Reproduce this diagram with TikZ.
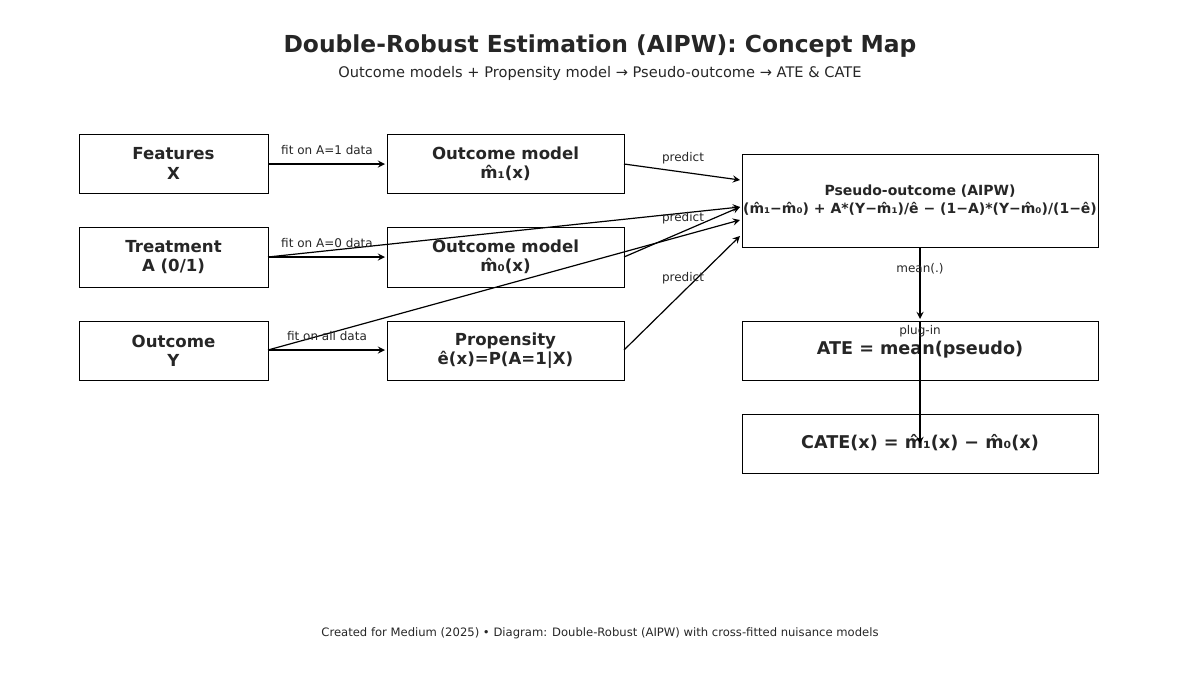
\documentclass[tikz,border=0pt]{standalone}
\usepackage{fontspec}
\setmainfont{DejaVu Sans}
\begin{document}
\begin{tikzpicture}[x=0.5pt,y=-0.5pt,
  box/.style={draw=black,line width=0.5pt,inner sep=0pt},
  btxt/.style={font=\fontsize{8.3pt}{9.6pt}\selectfont\bfseries,align=center,text=black!85},
  lbl/.style={font=\fontsize{6pt}{7pt}\selectfont,text=black!85},
  arr/.style={-stealth,line width=0.6pt}]
\useasboundingbox (0,0) rectangle (1200,681);
\node[font=\fontsize{11.7pt}{14pt}\selectfont\bfseries,text=black!85] (title) at (600,46) {Double-Robust Estimation (AIPW): Concept Map};
\node[font=\fontsize{7.3pt}{9pt}\selectfont,text=black!85] (sub) at (600,73) {Outcome models + Propensity model → Pseudo-outcome → ATE \& CATE};
\node[font=\fontsize{5.8pt}{7pt}\selectfont,text=black!85] (foot) at (600,633) {Created for Medium (2025) • Diagram: Double-Robust (AIPW) with cross-fitted nuisance models};
% boxes
\draw[box] (79,134) rectangle (268,193); \node[btxt] (feat) at (173.5,163.5) {Features\\X};
\draw[box] (79,227) rectangle (268,287); \node[btxt] (treat) at (173.5,257) {Treatment\\A (0/1)};
\draw[box] (79,321) rectangle (268,380); \node[btxt] (outc) at (173.5,350.5) {Outcome\\Y};
\draw[box] (387,134) rectangle (624,193); \node[btxt] (m1) at (505.5,163.5) {Outcome model\\m̂₁(x)};
\draw[box] (387,227) rectangle (624,287); \node[btxt] (m0) at (505.5,257) {Outcome model\\m̂₀(x)};
\draw[box] (387,321) rectangle (624,380); \node[btxt] (prop) at (505.5,350.5) {Propensity\\ê(x)=P(A=1|X)};
\draw[box] (742,154) rectangle (1098,247); \node[btxt,font=\fontsize{7pt}{8.6pt}\selectfont\bfseries] (pseudo) at (920,200) {Pseudo-outcome (AIPW)\\(m̂₁−m̂₀) + A*(Y−m̂₁)/ê − (1−A)*(Y−m̂₀)/(1−ê)};
\draw[box] (742,321) rectangle (1098,380); \node[btxt,font=\fontsize{8.8pt}{10pt}\selectfont\bfseries] (ate) at (920,350) {ATE = mean(pseudo)};
\draw[box] (742,414) rectangle (1098,473); \node[btxt,font=\fontsize{8.8pt}{10pt}\selectfont\bfseries] (cate) at (920,443) {CATE(x) = m̂₁(x) − m̂₀(x)};
% coordinates
\coordinate (fR) at (268,164); \coordinate (m1L) at (385,164);
\coordinate (tR) at (268,257); \coordinate (m0L) at (385,257);
\coordinate (oR) at (268,350); \coordinate (pL) at (385,350);
\coordinate (m1R) at (624,164); \coordinate (m0R) at (624,257); \coordinate (pR) at (624,350);
\coordinate (ps1) at (740,180); \coordinate (ps2) at (740,207); \coordinate (ps3) at (740,220); \coordinate (ps4) at (740,236);
\coordinate (psB) at (920,248); \coordinate (ateT) at (920,319);
\coordinate (ateS) at (920,321); \coordinate (cateM) at (920,444);
\draw[arr] (fR) -- (m1L);
\draw[arr] (tR) -- (m0L);
\draw[arr] (oR) -- (pL);
\draw[arr] (m1R) -- (ps1);
\draw[arr] (tR) -- (ps2);
\draw[arr] (m0R) -- (ps2);
\draw[arr] (oR) -- (ps3);
\draw[arr] (pR) -- (ps4);
\draw[arr] (psB) -- (ateT);
\draw[arr] (ateS) -- (cateM);
\node[lbl] (l1) at (327,150) {fit on A=1 data};
\node[lbl] (l2) at (327,243) {fit on A=0 data};
\node[lbl] (l3) at (327,336) {fit on all data};
\node[lbl] (p1) at (683,158) {predict};
\node[lbl] (p2) at (683,218) {predict};
\node[lbl] (p3) at (683,278) {predict};
\node[lbl] (mn) at (920,269) {mean(.)};
\node[lbl] (pl) at (920,331) {plug-in};
\end{tikzpicture}
\end{document}
